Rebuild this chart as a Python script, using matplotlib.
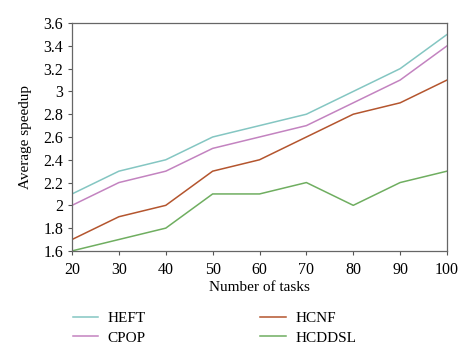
import matplotlib
matplotlib.use("Agg")
import matplotlib.pyplot as plt

tasks = [20, 30, 40, 50, 60, 70, 80, 90, 100]
heft = [2.1, 2.3, 2.4, 2.6, 2.7, 2.8, 3.0, 3.2, 3.5]
cpop = [2.0, 2.2, 2.3, 2.5, 2.6, 2.7, 2.9, 3.1, 3.4]
hcnf = [1.7, 1.9, 2.0, 2.3, 2.4, 2.6, 2.8, 2.9, 3.1]
hcddsl = [1.6, 1.7, 1.8, 2.1, 2.1, 2.2, 2.0, 2.2, 2.3]
yticks = [1.6, 1.8, 2, 2.2, 2.4, 2.6, 2.8, 3, 3.2, 3.4, 3.6]
ytick_labels = ["1.6", "1.8", "2", "2.2", "2.4", "2.6", "2.8", "3", "3.2", "3.4", "3.6"]

plt.rcParams['font.family'] = ['Liberation Serif', 'DejaVu Serif']

fig = plt.figure(figsize=(4.74, 3.61), dpi=100)
ax = fig.add_axes([0.152, 0.305, 0.791, 0.631])

ax.plot(tasks, heft, color='#84c6c2', lw=1.1, label='HEFT')
ax.plot(tasks, cpop, color='#c383c0', lw=1.1, label='CPOP')
ax.plot(tasks, hcnf, color='#b4552e', lw=1.1, label='HCNF')
ax.plot(tasks, hcddsl, color='#6fae60', lw=1.1, label='HCDDSL')

ax.set_xlim(20, 100)
ax.set_ylim(1.6, 3.6)
ax.set_xticks(tasks)
ax.set_yticks(yticks)
ax.set_yticklabels(ytick_labels)
ax.tick_params(labelsize=11.5, direction='out', length=3, color='#555555', width=0.8)
ax.tick_params(axis='x', pad=5)
for s in ax.spines.values():
    s.set_color('#666666')
    s.set_linewidth(0.9)

ax.set_xlabel('Number of tasks', fontsize=11, labelpad=2)
ax.set_ylabel('Average speedup', fontsize=11, labelpad=8)

handles, labels = ax.get_legend_handles_labels()
fig.legend(handles, labels, loc='upper left', bbox_to_anchor=(0.124, 0.176), ncol=2,
           frameon=False, fontsize=11, handlelength=1.65, handletextpad=0.65,
           columnspacing=7.5, labelspacing=0.4)

fig.savefig('out.png', dpi=100)
